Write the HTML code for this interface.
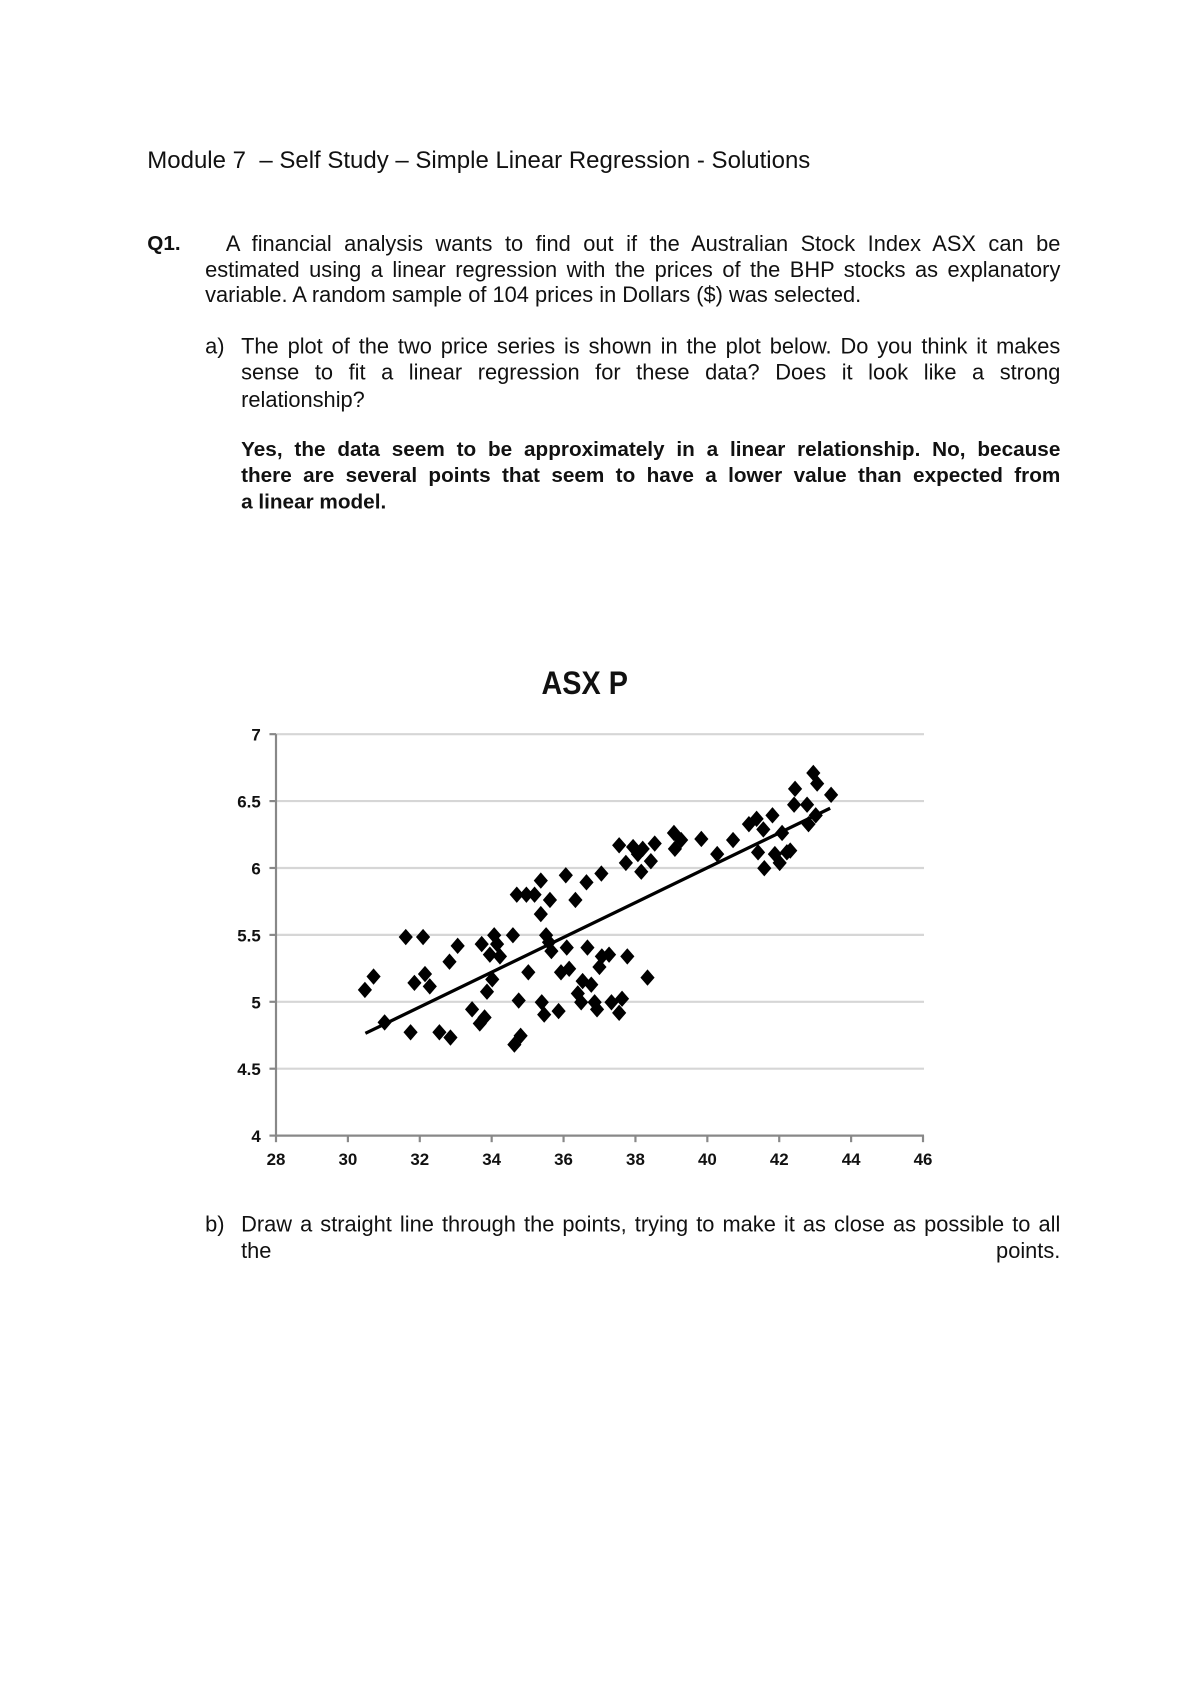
<!DOCTYPE html>
<html><head><meta charset="utf-8"><style>
body{margin:0;background:#fff;overflow:hidden;}
.pg{position:relative;width:1100px;height:1557px;font-family:"Liberation Sans",Arial,sans-serif;color:#111;font-size:20px;transform:scale(1.0909);transform-origin:0 0;}
.t{position:absolute;white-space:nowrap;line-height:26px;}
.j{position:absolute;white-space:nowrap;text-align:justify;text-align-last:justify;line-height:26px;}
.b{font-weight:bold;font-size:19px;}
</style></head><body><div class="pg">
<div class="t" style="left:135px;top:134px;font-size:22px;">Module 7 &nbsp;– Self Study – Simple Linear Regression - Solutions</div>
<div class="t" style="left:135px;top:211px;font-weight:bold;font-size:19px;">Q1.</div>
<div class="j" style="left:207px;top:211px;width:765px;">A financial analysis wants to find out if the Australian Stock Index ASX can be</div>
<div class="j" style="left:188px;top:235px;width:784px;">estimated using a linear regression with the prices of the BHP stocks as explanatory</div>
<div class="t" style="left:188px;top:258px;">variable. A random sample of 104 prices in Dollars ($) was selected.</div>
<div class="t" style="left:188px;top:305px;">a)</div>
<div class="j" style="left:221px;top:305px;width:751px;">The plot of the two price series is shown in the plot below. Do you think it makes</div>
<div class="j" style="left:221px;top:329px;width:751px;">sense to fit a linear regression for these data? Does it look like a strong</div>
<div class="t" style="left:221px;top:354px;">relationship?</div>
<div class="j b" style="left:221px;top:400px;width:751px;">Yes, the data seem to be approximately in a linear relationship. No, because</div>
<div class="j b" style="left:221px;top:424px;width:751px;">there are several points that seem to have a lower value than expected from</div>
<div class="t b" style="left:221px;top:448px;">a linear model.</div>
<div class="t" style="left:188px;top:1110px;">b)</div>
<div class="j" style="left:221px;top:1110px;width:751px;">Draw a straight line through the points, trying to make it as close as possible to all</div>
<div class="j" style="left:221px;top:1134px;width:751px;">the points.</div>
<svg id="s" style="position:absolute;left:0;top:-5px" width="1100" height="1557"></svg>
<script>
var P=[[337,965],[355,927],[378,1057],[422,815],[432,1085],[440,945],[458,815],[462,920],[472,955],[492,1085],[513,885],[515,1100],[530,840],[560,1020],[576,1060],[580,835],[586,1043],[591,970],[597,865],[602,935],[606,810],[612,835],[618,870],[645,810],[648,1120],[657,995],[661,1095],[653,695],[673,695],[677,915],[690,695],[703,655],[703,750],[705,1000],[710,1035],[714,810],[720,830],[725,855],[722,710],[740,1025],[745,915],[755,640],[757,845],[762,905],[775,710],[780,975],[787,1000],[790,940],[798,660],[800,845],[808,950],[815,1000],[820,1020],[825,900],[829,635],[830,870],[845,865],[850,1000],[866,1030],[872,990],[866,555],[880,605],[883,870],[895,560],[905,580],[912,630],[915,565],[925,930],[932,600],[940,550],[980,520],[982,565],[995,540],[1037,537],[1070,580],[1103,540],[1136,495],[1152,480],[1155,575],[1166,510],[1168,620],[1185,470],[1190,580],[1200,605],[1205,520],[1215,575],[1222,570],[1232,395],[1230,440],[1257,440],[1260,495],[1270,350],[1278,380],[1275,470],[1307,412]];
function X(z){return 253+(z-152)*(593/1346);}
function Y(z){return 678+(z-240)*(368/1138);}
var s='<text x="536" y="641" text-anchor="middle" font-family="Liberation Sans,sans-serif" font-weight="bold" font-size="30" fill="#111" transform="translate(536,0) scale(0.88,1) translate(-536,0)">ASX P</text>';
var ys=['7','6.5','6','5.5','5','4.5','4'];
for(var i=0;i<7;i++){var y=678+i*61.33;
 if(i<6)s+='<line x1="253" x2="847" y1="'+y+'" y2="'+y+'" stroke="#d6d6d6" stroke-width="2"/>';
 s+='<line x1="247" x2="253" y1="'+y+'" y2="'+y+'" stroke="#888" stroke-width="2"/>';
 s+='<text x="239" y="'+(y+6)+'" text-anchor="end" font-family="Liberation Sans,sans-serif" font-weight="bold" font-size="15.5" fill="#111">'+ys[i]+'</text>';}
s+='<line x1="253" y1="678" x2="253" y2="1046" stroke="#888" stroke-width="2"/><line x1="253" y1="1046" x2="847" y2="1046" stroke="#888" stroke-width="2"/>';
for(var k=0;k<10;k++){var x=253+k*65.9;
 s+='<line x1="'+x+'" x2="'+x+'" y1="1046" y2="1052" stroke="#888" stroke-width="2"/>';
 s+='<text x="'+x+'" y="1073" text-anchor="middle" font-family="Liberation Sans,sans-serif" font-weight="bold" font-size="15.5" fill="#111">'+(28+2*k)+'</text>';}
s+='<line x1="'+X(338)+'" y1="'+Y(1088)+'" x2="'+X(1305)+'" y2="'+Y(450)+'" stroke="#000" stroke-width="3"/>';
P.forEach(function(p){var x=X(p[0]),y=Y(p[1]);s+='<polygon points="'+x+','+(y-7.5)+' '+(x+6.5)+','+y+' '+x+','+(y+7.5)+' '+(x-6.5)+','+y+'" fill="#000"/>';});
document.getElementById('s').innerHTML=s;
</script>
</div></body></html>
